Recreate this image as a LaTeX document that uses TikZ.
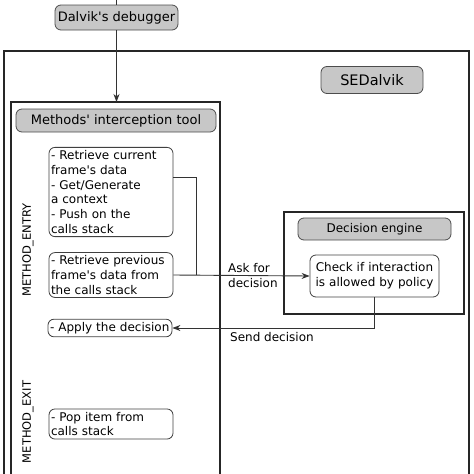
\documentclass[tikz,border=0pt]{standalone}
\usepackage{fontspec}
\setmainfont{DejaVu Sans}
\usetikzlibrary{arrows.meta}

\newcommand\qs{\textquotesingle}

\tikzset{
  titlebox/.style={draw=black!70, fill=black!22, rounded corners=6pt, line width=0.8pt, inner sep=0pt, font=\fontsize{13}{15}\selectfont},
  actbox/.style={draw=black!75, rounded corners=6pt, line width=0.8pt, align=left, text width=120pt, inner xsep=2pt, inner ysep=3pt, font=\fontsize{12}{14.8}\selectfont},
  frame/.style={draw=black!85, line width=1.3pt},
  flow/.style={draw=black!80, line width=0.9pt},
  tip/.style={-{Stealth[length=8pt,width=6pt,inset=2.5pt]}},
  lbl/.style={font=\fontsize{12}{14.8}\selectfont, inner sep=0pt}
}

\begin{document}
\begin{tikzpicture}[x=1pt, y=-1pt]
  \useasboundingbox (0,0) rectangle (474,474);
  \clip (0,0) rectangle (474,474);

  % frames
  \draw[frame] (4,480) -- (4,51) -- (469,51) -- (469,480);
  \draw[frame] (11,480) -- (11,102) -- (220,102) -- (220,480);
  \draw[frame] (284,212) rectangle (464,314);

  % titles
  \node[titlebox, minimum width=123pt, minimum height=25pt] (debugger) at (116.5,17.5) {Dalvik\qs s debugger};
  \node[titlebox, minimum width=102pt, minimum height=27pt, font=\fontsize{14.5}{16}\selectfont] (sedalvik) at (372,80) {SEDalvik};
  \node[titlebox, minimum width=200pt, minimum height=23pt] (interception) at (116,120.5) {Methods\qs\ interception tool};
  \node[titlebox, minimum width=153pt, minimum height=22pt, font=\fontsize{12}{14}\selectfont] (engine) at (374.5,229) {Decision engine};

  % steps
  \node[actbox] (current) at (111,192) {- Retrieve current\\frame\qs s data\\- Get/Generate\\a context\\- Push on the\\calls stack};
  \node[actbox] (previous) at (111,275) {- Retrieve previous\\frame\qs s data from\\the calls stack};
  \node[actbox] (apply) at (110,328) {- Apply the decision};
  \node[actbox] (pop) at (111,424) {- Pop item from\\calls stack};
  \node[actbox, text width=125pt, align=center, minimum height=42pt] (check) at (374.5,276) {Check if interaction\\is allowed by policy};

  % side labels
  \node[lbl, rotate=90, font=\fontsize{11.5}{14}\selectfont] (entry) at (28,250) {METHOD\_ENTRY};
  \node[lbl, rotate=90, font=\fontsize{11.5}{14}\selectfont] (exit) at (28,422) {METHOD\_EXIT};

  % connectors
  \coordinate (above) at (116.5,-5);
  \coordinate (intotool) at (116.5,102);
  \coordinate (join) at (196,275);
  \draw[flow] (above) -- (debugger);
  \draw[flow, tip] (debugger) -- (intotool);
  \draw[flow] ([yshift=15pt]current.east) -| (join);
  \draw[flow, tip] (previous.east) -- (check.west);
  \draw[flow, tip] (check.south) |- (apply.east);

  \node[lbl, anchor=west, align=left] (ask) at (228,275.5) {Ask for\\decision};
  \node[lbl, anchor=west] (send) at (230,337) {Send decision};
\end{tikzpicture}
\end{document}
